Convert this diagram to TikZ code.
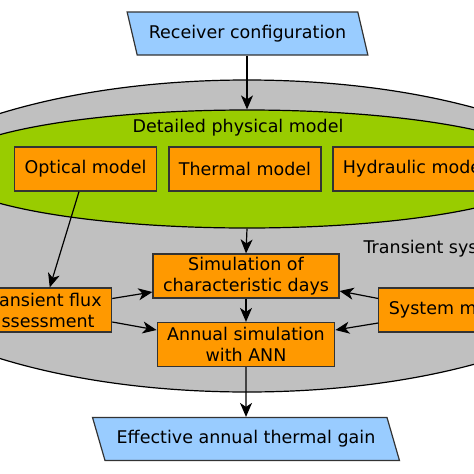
\documentclass[tikz,border=0pt]{standalone}
\usepackage{fontspec}
\setmainfont{DejaVu Sans}
\usetikzlibrary{shapes.geometric,arrows.meta}

\definecolor{inblue}{HTML}{99CCFF}
\definecolor{physgreen}{HTML}{99CC00}
\definecolor{sysgray}{HTML}{C0C0C0}
\definecolor{boxorange}{HTML}{FF9900}
\definecolor{edgegray}{HTML}{333333}

\tikzstyle{io} = [trapezium, trapezium stretches=true, draw=edgegray, fill=inblue,
  line width=1.2pt, inner sep=0pt, minimum height=43pt]
\tikzstyle{block} = [rectangle, draw=edgegray, fill=boxorange, line width=1.2pt,
  align=center, inner xsep=10pt, inner ysep=0pt, minimum height=44pt]
\tikzstyle{region} = [ellipse, draw=black, line width=1.2pt, inner sep=0pt]
\tikzstyle{txt} = [text centered, inner sep=0pt]

\begin{document}
\begin{tikzpicture}[x=1pt,y=-1pt,
>={Stealth[length=14pt,width=12pt,inset=4pt]},
font=\fontsize{17.5}{21}\selectfont,
line width=1.2pt,
]
\useasboundingbox (0,0) rectangle (474,474);
\clip (0,0) rectangle (474,474);

% Transient system region
\node[region, fill=sysgray, minimum width=798pt, minimum height=312pt] (sys) at (247,236) {};
\node[txt, anchor=west] (syslabel) at (363,249) {Transient system model};

% Detailed physical model region
\node[region, fill=physgreen, minimum width=608pt, minimum height=118pt] (phys) at (247,169) {};
\node[txt] (physlabel) at (238,128) {Detailed physical model};

% Physical sub-models
\node[block] (optical) at (85.5,169) {Optical model};
\node[block] (thermal) at (245,169) {Thermal model};
\node[block] (hydraulic) at (414.5,169) {Hydraulic model};

% Simulations
\node[block] (chardays) at (246,276) {Simulation of\\characteristic days};
\node[block] (annual) at (246,344.5) {Annual simulation\\with ANN};
\node[block] (flux) at (42.75,310) {Transient flux\\assessment};
\node[block] (sysmodel) at (451.5,310) {System model};

% Input / output
\node[io, trapezium left angle=118, trapezium right angle=62, minimum width=241pt] (receiver) at (247.5,33.5) {Receiver configuration};
\node[io, trapezium left angle=124, trapezium right angle=56, minimum width=308pt] (gain) at (246,439) {Effective annual thermal gain};

% Connections
\draw[->] (receiver.south -| phys.north) -- (phys.north);
\draw[->] (phys.south) -- (chardays.north);
\draw[->] (chardays.south) -- (annual.north);
\draw[->] ([xshift=-6.5pt]optical.south) -- ([xshift=7pt]flux.north);
\draw[->] ([yshift=11.5pt]flux.east) -- ([yshift=-16pt]chardays.west);
\draw[->] ([yshift=-12pt]flux.east) -- ([yshift=14.5pt]annual.west);
\draw[->] ([yshift=11.5pt]sysmodel.west) -- ([yshift=-15pt]chardays.east);
\draw[->] ([yshift=-13pt]sysmodel.west) -- ([yshift=14.5pt]annual.east);
\draw[->] (annual.south) -- (gain.north);

\end{tikzpicture}
\end{document}
